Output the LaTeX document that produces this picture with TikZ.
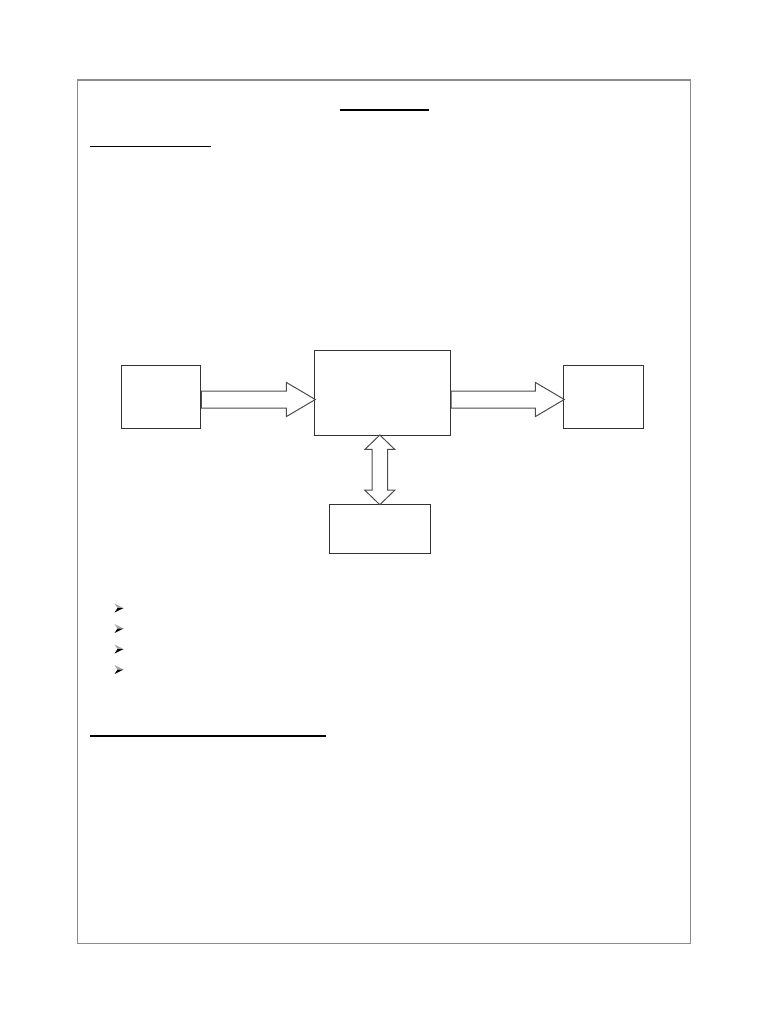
\documentclass[tikz,border=0pt]{standalone}
\usepackage{tikz}
\usetikzlibrary{shapes,arrows,positioning,calc}

\begin{document}
\begin{tikzpicture}[x=1pt,y=-1pt,
block/.style={
% The shape:
rectangle,
% The size:
inner sep=0pt,
% The border:
line width=1pt,
draw=black!80
},
bigarrow/.style={
% The shape:
single arrow,
single arrow tip angle=61,
single arrow head extend=8.5pt,
% The size:
inner sep=8pt,
% The border:
line width=1pt,
draw=black!70
},
twoarrow/.style={
% The shape:
double arrow,shape border rotate=90,
double arrow tip angle=92,
double arrow head extend=7.3pt,
% The size:
inner sep=7.2pt,minimum height=69.7pt,
% The border
line width=1pt,draw=black!70},
rule/.style={line width=1.6pt},
page/.style={draw=black!45, line width=1.2pt}]

\useasboundingbox (0,0) rectangle (768,1024);
\draw [page] (77.5,80) rectangle (690.7,943.3);

% headings
\draw [rule] (339.5,110.3) -- (429.3,110.3);
\draw [rule] (90,146.7) -- (210.7,146.7);
\draw [rule] (90,735.7) -- (326,735.7);

\node (src) [block, minimum width=79.3pt, minimum height=63.7pt] at (160.7,396.9) {};
\node (proc) [block, minimum width=136pt, minimum height=85pt] at (382,392.5) {};
\node (sink) [block, minimum width=79.7pt, minimum height=63.7pt] at (603.2,396.9) {};
\node (store) [block, minimum width=101pt, minimum height=48.6pt] at (379.8,529) {};

\coordinate (flow) at (0,399.5);
\node (in) [bigarrow, minimum height=114pt, anchor=tail] at (src.east |- flow) {};
\node (out) [bigarrow, minimum height=113.3pt, anchor=tail] at (proc.east |- flow) {};
\node (link) [twoarrow] at ($(store.north |- proc.south)!0.5!(store.north)$) {};

% bullets
\foreach \y in {608,628.5,649,669.5}
{
\fill [black!35] (114.5,\y-4.5) -- (123.5,\y) -- (117.5,\y) -- cycle;
\fill [black] (117.5,\y) -- (123.5,\y) -- (114.5,\y+4.5) -- cycle;
}
\end{tikzpicture}
\end{document}
